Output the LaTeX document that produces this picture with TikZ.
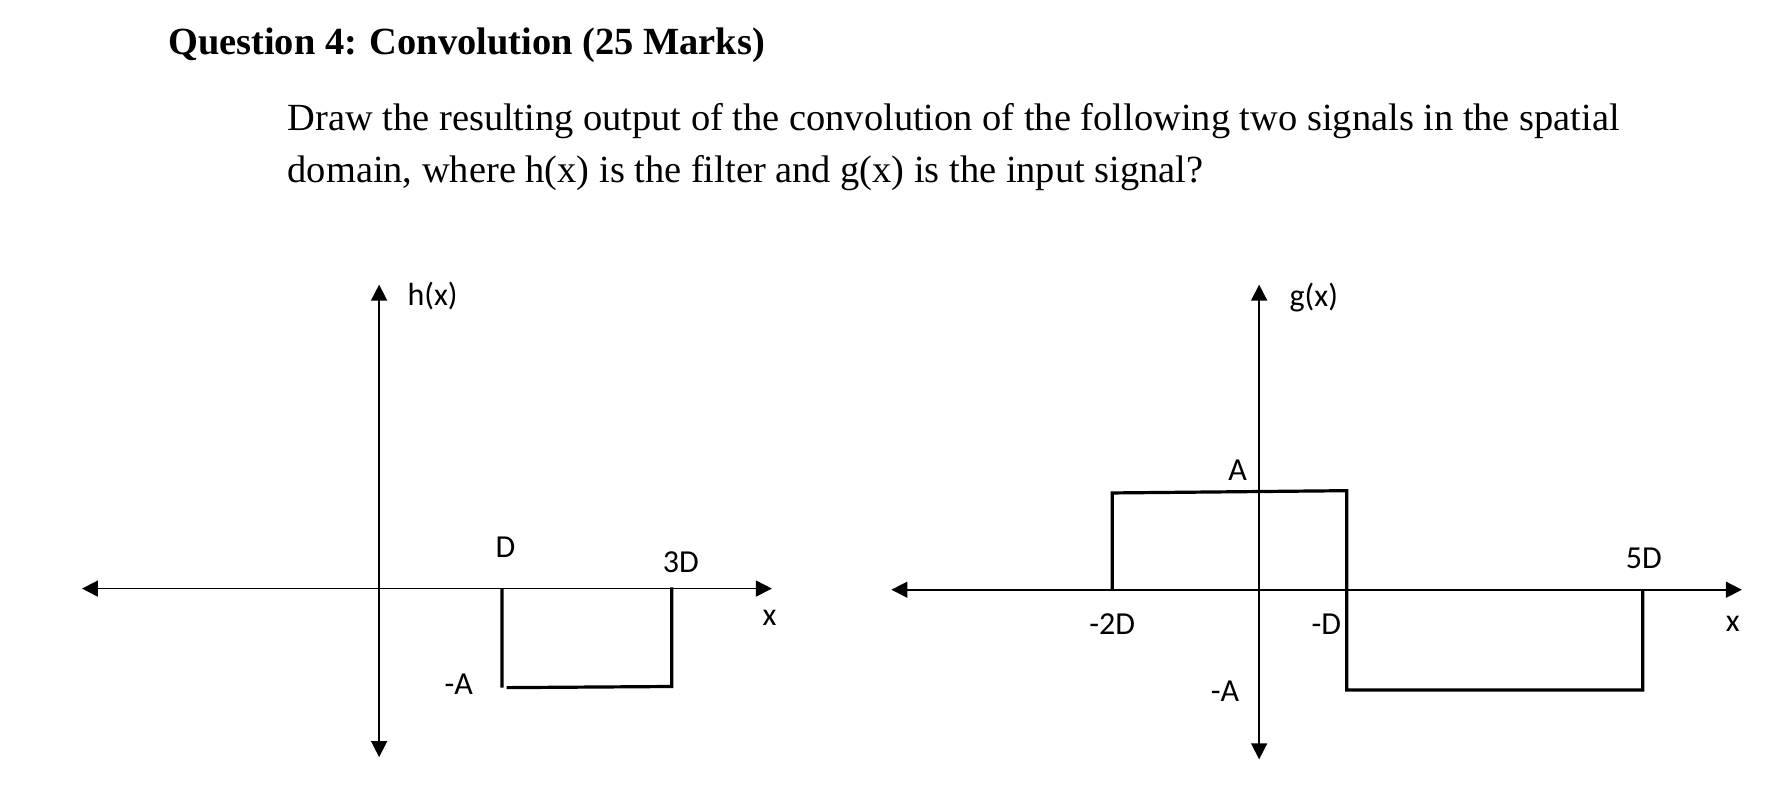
\documentclass[tikz,border=0pt]{standalone}
\usepackage{fontspec}
\setmainfont{Liberation Serif}
\newfontfamily\lab{Carlito}
\usetikzlibrary{arrows.meta}
\begin{document}
\begin{tikzpicture}[x=0.01cm,y=-0.01cm,
  ax/.style={line width=0.4pt,{Triangle[length=4pt,width=4pt]}-{Triangle[length=4pt,width=4pt]}},
  sig/.style={line width=0.8pt},
  lbl/.style={font=\lab\fontsize{8}{9}\selectfont,inner sep=0pt},
  txt/.style={font=\fontsize{9.6}{11}\selectfont,anchor=base west,inner sep=0pt}]
\useasboundingbox (0,0) rectangle (1560,697);
\node[txt,font=\bfseries\fontsize{9.6}{11}\selectfont] (title) at (147,48) {Question 4: Convolution (25 Marks)};
\node[txt] (l1) at (252,115) {Draw the resulting output of the convolution of the following two signals in the spatial};
\node[txt] (l2) at (252,160) {domain, where h(x) is the filter and g(x) is the input signal?};
% left plot
\coordinate (hT) at (333,250); \coordinate (hB) at (333,665);
\coordinate (hL) at (72,517); \coordinate (hR) at (678,517);
\draw[ax] (hB) -- (hT);
\draw[ax] (hL) -- (hR);
\draw[sig] (441,517) -- (441,604) (445,604) -- (590,603) -- (590,516);
\node[lbl] (hlab) at (380,260) {h(x)};
\node[lbl] (hD) at (444,481) {D};
\node[lbl] (h3D) at (598,494) {3D};
\node[lbl] (hx) at (676,543) {x};
\node[lbl] (hA) at (403,601) {-A};
% right plot
\coordinate (gT) at (1106,250); \coordinate (gB) at (1106,667);
\coordinate (gL) at (783,518); \coordinate (gR) at (1530,518);
\draw[ax] (gB) -- (gT);
\draw[ax] (gL) -- (gR);
\draw[sig] (977,518) -- (977,433) -- (1183,431) -- (1183,606) -- (1443,606) -- (1443,518);
\node[lbl] (glab) at (1154,261) {g(x)};
\node[lbl] (gA) at (1087,413) {A};
\node[lbl] (g2D) at (977,548) {-2D};
\node[lbl] (gD) at (1165,548) {-D};
\node[lbl] (gmA) at (1076,607) {-A};
\node[lbl] (g5D) at (1444,490) {5D};
\node[lbl] (gx) at (1522,548) {x};
\end{tikzpicture}
\end{document}
